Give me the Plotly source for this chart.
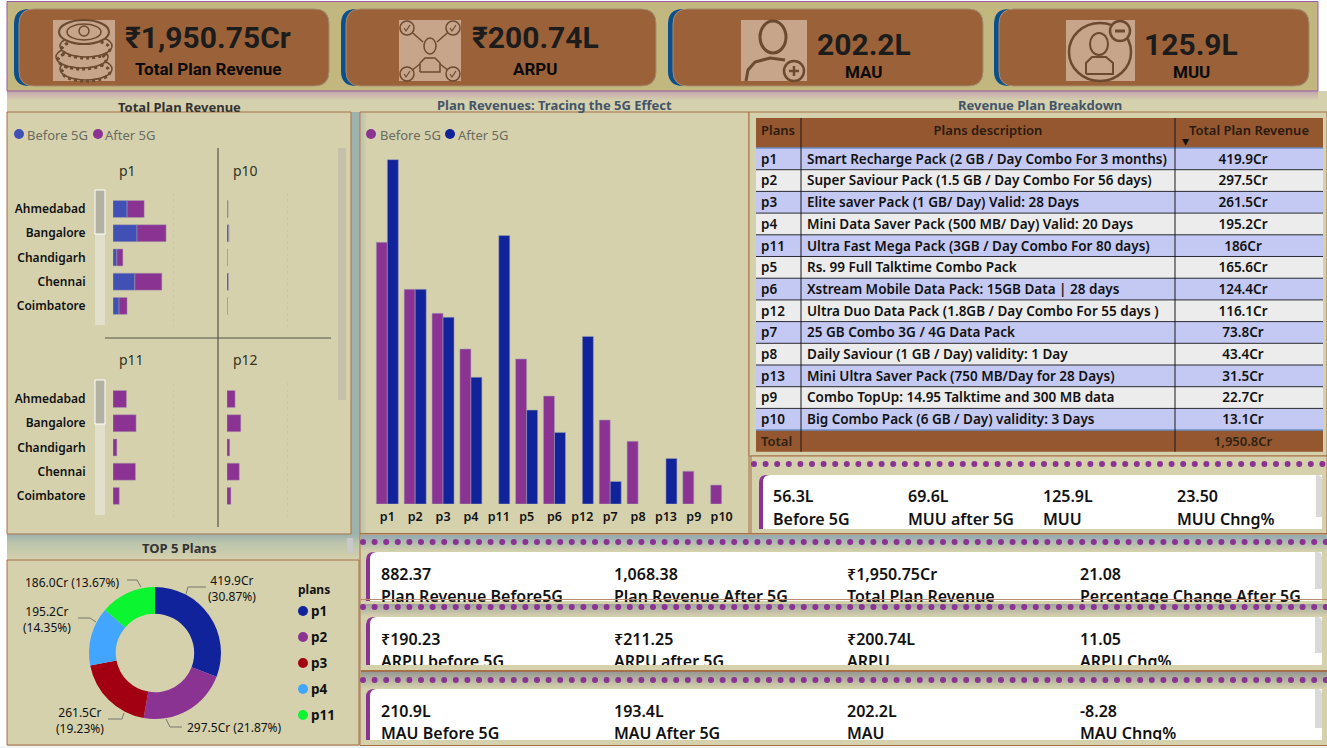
import numpy as np
import plotly.graph_objects as go

W, H = 1327, 748

# ---- data ----
cities = ['Ahmedabad', 'Bangalore', 'Chandigarh', 'Chennai', 'Coimbatore']
p1_before = [4.7, 8.0, 1.3, 7.3, 2.0]
p1_after = [5.7, 9.7, 2.0, 9.0, 2.7]
p10_before = [0.3, 0.6, 0.15, 0.5, 0.15]
p10_after = [0, 0, 0, 0, 0]
p11_before = [0, 0, 0, 0, 0]
p11_after = [4.5, 7.7, 1.3, 7.5, 2.1]
p12_before = [0, 0, 0, 0, 0]
p12_after = [2.7, 4.6, 0.9, 4.1, 1.3]

plans = ['p1', 'p2', 'p3', 'p4', 'p11', 'p5', 'p6', 'p12', 'p7', 'p8', 'p13', 'p9', 'p10']
rev_before = [181.3, 148.75, 132.1, 107.4, None, 100.5, 74.8, None, 58.2, 43.4, None, 22.7, 13.1]
rev_after = [238.6, 148.75, 129.4, 87.8, 186.0, 65.1, 49.6, 116.1, 15.6, None, 31.5, None, None]

plan_desc = ['Smart Recharge Pack (2 GB / Day Combo For 3 months)',
             'Super Saviour Pack (1.5 GB / Day Combo For 56 days)',
             'Elite saver Pack (1 GB/ Day) Valid: 28 Days',
             'Mini Data Saver Pack (500 MB/ Day) Valid: 20 Days',
             'Ultra Fast Mega Pack (3GB / Day Combo For 80 days)',
             'Rs. 99 Full Talktime Combo Pack',
             'Xstream Mobile Data Pack: 15GB Data | 28 days',
             'Ultra Duo Data Pack (1.8GB / Day Combo For 55 days )',
             '25 GB Combo 3G / 4G Data Pack',
             'Daily Saviour (1 GB / Day) validity: 1 Day',
             'Mini Ultra Saver Pack (750 MB/Day for 28 Days)',
             'Combo TopUp: 14.95 Talktime and 300 MB data',
             'Big Combo Pack (6 GB / Day) validity: 3 Days']
plan_total = ['419.9Cr', '297.5Cr', '261.5Cr', '195.2Cr', '186Cr', '165.6Cr', '124.4Cr',
              '116.1Cr', '73.8Cr', '43.4Cr', '31.5Cr', '22.7Cr', '13.1Cr']
table_headers = ['Plans', 'Plans description', 'Total Plan Revenue']
table_total = ['Total', '1,950.8Cr']

top_plans = ['p1', 'p2', 'p3', 'p4', 'p11']
top_values = [419.9, 297.5, 261.5, 195.2, 186.0]
top_pct = ['(30.87%)', '(21.87%)', '(19.23%)', '(14.35%)', '(13.67%)']

banner_values = ['₹1,950.75Cr', '₹200.74L', '202.2L', '125.9L']
banner_labels = ['Total Plan Revenue', 'ARPU', 'MAU', 'MUU']

muu_values = ['56.3L', '69.6L', '125.9L', '23.50']
muu_labels = ['Before 5G', 'MUU after 5G', 'MUU', 'MUU Chng%']
rev_values = ['882.37', '1,068.38', '₹1,950.75Cr', '21.08']
rev_labels = ['Plan Revenue Before5G', 'Plan Revenue After 5G', 'Total Plan Revenue', 'Percentage Change After 5G']
arpu_values = ['₹190.23', '₹211.25', '₹200.74L', '11.05']
arpu_labels = ['ARPU before 5G', 'ARPU after 5G', 'ARPU', 'ARPU Chg%']
mau_values = ['210.9L', '193.4L', '202.2L', '-8.28']
mau_labels = ['MAU Before 5G', 'MAU After 5G', 'MAU', 'MAU Chng%']

# ---- colours ----
PANEL = '#d5d1ad'
BORDER = '#a5714b'
BANNER = '#c2b77f'
CARD = '#9b6239'
ACCENT = '#0b4f8c'
ICON_BG = '#c6a58b'
ICON_LINE = '#6b4a30'
BLUE = '#10239b'
INDIGO = '#4050b5'
PURPLE = '#8a3393'
SLATE = '#44546a'
TEAL = '#9fb3ae'
TABLE_BROWN = '#95572f'
TEXT_FONT = 'Noto Sans'
BIG_FONT = 'Roboto'

shapes = []
annotations = []


def fx(x):
    return x / W


def fy(y):
    return 1 - y / H


def rect(x0, y0, x1, y1, fill, line=None, lw=1, layer='below'):
    shapes.append(dict(type='rect', xref='paper', yref='paper', x0=fx(x0), x1=fx(x1), y0=fy(y0), y1=fy(y1),
                       fillcolor=fill, line=dict(color=line or 'rgba(0,0,0,0)', width=lw if line else 0), layer=layer))


def rrect(x0, y0, x1, y1, r, fill, line=None, lw=1, corners=(1, 1, 1, 1)):
    # rounded rectangle as a path, corners are tl, tr, br, bl
    tl, tr, br, bl = [r * c for c in corners]
    pts = [('M', x0 + tl, y0), ('L', x1 - tr, y0), ('Q', x1, y0, x1, y0 + tr), ('L', x1, y1 - br),
           ('Q', x1, y1, x1 - br, y1), ('L', x0 + bl, y1), ('Q', x0, y1, x0, y1 - bl), ('L', x0, y0 + tl),
           ('Q', x0, y0, x0 + tl, y0)]
    path = ''
    for p in pts:
        vals = p[1:]
        coords = []
        for i in range(0, len(vals), 2):
            coords.append(f'{fx(vals[i]):.5f},{fy(vals[i + 1]):.5f}')
        path += p[0] + ' '.join(coords) + ' '
    shapes.append(dict(type='path', xref='paper', yref='paper', path=path + 'Z', fillcolor=fill,
                       line=dict(color=line or 'rgba(0,0,0,0)', width=lw if line else 0), layer='below'))


def ellipse(cx, cy, rx, ry, fill='rgba(0,0,0,0)', line=None, lw=1.5, dash='solid'):
    shapes.append(dict(type='circle', xref='paper', yref='paper', x0=fx(cx - rx), x1=fx(cx + rx), y0=fy(cy - ry),
                       y1=fy(cy + ry), fillcolor=fill,
                       line=dict(color=line or 'rgba(0,0,0,0)', width=lw if line else 0, dash=dash), layer='below'))


def poly(points, color, lw=1, layer='below', fill='rgba(0,0,0,0)', close=False):
    path = 'M' + ' L'.join(f'{fx(x):.5f},{fy(y):.5f}' for x, y in points)
    if close:
        path += ' Z'
    shapes.append(dict(type='path', xref='paper', yref='paper', path=path, fillcolor=fill,
                       line=dict(color=color, width=lw), layer=layer))


def vgrad(x0, x1, y0, y1, c0, c1):
    # vertical fade drawn as one pixel strips
    n = int(y1 - y0)
    for i in range(n):
        t = i / max(n - 1, 1)
        c = [int(c0[k] + (c1[k] - c0[k]) * t) for k in range(3)]
        rect(x0, y0 + i, x1, y0 + i + 1.2, f'rgb({c[0]},{c[1]},{c[2]})')


def hgrad(x0, x1, y0, y1, c0, c1):
    n = int(x1 - x0)
    for i in range(n):
        t = i / max(n - 1, 1)
        c = [int(c0[k] + (c1[k] - c0[k]) * t) for k in range(3)]
        rect(x0 + i, y0, x0 + i + 1.2, y1, f'rgb({c[0]},{c[1]},{c[2]})')


def label(x, y, text, size=12, color='#111', anchor='center', font=TEXT_FONT, bold=False):
    annotations.append(dict(xref='paper', yref='paper', x=fx(x), y=fy(y), text=f'<b>{text}</b>' if bold else text,
                            showarrow=False, xanchor=anchor, yanchor='middle',
                            font=dict(family=font, size=size, color=color)))


PANEL_RGB = (213, 209, 173)

# page background
rect(7, 91, W, 748, PANEL)
vgrad(7, 1318, 91, 101, (196, 168, 174), PANEL_RGB)

# top banner
rect(7, 1.5, 1318, 91, BANNER, line='#9b59a8', lw=1)
for i, x0 in enumerate([14, 341, 668, 994]):
    rrect(x0, 9, x0 + 315, 86, 15, ACCENT)
    rrect(x0 + 5, 9, x0 + 315, 86, 15, CARD, line='#a88c6e', lw=1)
label(208, 38, banner_values[0], 30, '#1c1c1c', font=BIG_FONT, bold=True)
label(208, 69, banner_labels[0], 17, '#0a0a0a', font=BIG_FONT, bold=True)
label(535, 38, banner_values[1], 30, '#1c1c1c', font=BIG_FONT, bold=True)
label(535, 69, banner_labels[1], 17, '#0a0a0a', font=BIG_FONT, bold=True)
label(864, 44, banner_values[2], 30, '#1c1c1c', font=BIG_FONT, bold=True)
label(864, 72, banner_labels[2], 17, '#0a0a0a', font=BIG_FONT, bold=True)
label(1191, 44, banner_values[3], 30, '#1c1c1c', font=BIG_FONT, bold=True)
label(1191, 72, banner_labels[3], 17, '#0a0a0a', font=BIG_FONT, bold=True)

# coins icon
rect(53, 20, 115, 81, ICON_BG)
for cx, cy in [(86, 69), (82, 57), (86, 46)]:
    ellipse(cx, cy, 26, 11, fill=ICON_BG, line=ICON_LINE, lw=1.5)
    ellipse(cx, cy + 3, 24, 9, line=ICON_LINE, lw=3, dash='dot')
ellipse(84, 32, 25, 12, fill=ICON_BG, line=ICON_LINE, lw=2)
ellipse(84, 32, 17, 8, line=ICON_LINE, lw=1.5)
ellipse(84, 31, 5, 5, line=ICON_LINE, lw=1.5)

# network icon
rect(399, 20, 461, 81, ICON_BG)
for cx, cy, tx, ty in [(407, 28, 423, 42), (453, 28, 437, 42), (407, 74, 420, 64), (453, 74, 440, 64)]:
    poly([(cx, cy), (tx, ty)], ICON_LINE, 1.5)
    ellipse(cx, cy, 7, 7, fill=ICON_BG, line=ICON_LINE, lw=1.5)
    poly([(cx - 3, cy), (cx - 1, cy + 3), (cx + 3, cy - 3)], ICON_LINE, 1.2)
ellipse(430, 46, 6, 8, line=ICON_LINE, lw=1.5)
poly([(420, 72), (420, 63), (425, 58), (435, 58), (440, 63), (440, 72), (420, 72)], ICON_LINE, 1.5)

# add-user icon
rect(741, 20, 807, 81, ICON_BG)
ellipse(773, 37, 13, 16, line=ICON_LINE, lw=3)
poly([(746, 81), (748, 70), (755, 62), (770, 58), (785, 60)], ICON_LINE, 3)
ellipse(794, 71, 10, 10, fill=ICON_BG, line=ICON_LINE, lw=2.5)
poly([(789, 71), (799, 71)], ICON_LINE, 2.5)
poly([(794, 66), (794, 76)], ICON_LINE, 2.5)

# remove-user icon
rect(1066, 20, 1135, 81, ICON_BG)
ellipse(1100, 52, 31, 29, line=ICON_LINE, lw=2.5)
ellipse(1099, 44, 9, 11, line=ICON_LINE, lw=2)
poly([(1086, 74), (1086, 63), (1092, 57), (1106, 57), (1113, 63), (1113, 74), (1086, 74)], ICON_LINE, 2)
ellipse(1120, 31, 10, 10, fill=ICON_BG, line=ICON_LINE, lw=2.5)
poly([(1115, 31), (1125, 31)], ICON_LINE, 3)

# section titles
label(179, 107, 'Total Plan Revenue', 13, '#333', bold=True)
label(554, 105, 'Plan Revenues: Tracing the 5G Effect', 13, SLATE, bold=True)
label(1040, 105, 'Revenue Plan Breakdown', 13, SLATE, bold=True)

# left panel
rect(351, 112, 360, 540, TEAL)
vgrad(7, 360, 534, 544, (159, 179, 174), (190, 198, 172))
vgrad(7, 360, 544, 560, (190, 198, 172), PANEL_RGB)
rect(347, 538, 353, 553, '#c9c9c9')
rect(7, 112, 351, 534, PANEL, line=BORDER)
rect(95, 190, 105, 325, '#e2e0cc')
rect(95, 190, 105, 234, '#b3b1a3', line='#ffffff', lw=1)
rect(95, 380, 105, 515, '#e2e0cc')
rect(95, 380, 105, 424, '#b3b1a3', line='#ffffff', lw=1)
rect(338, 148, 346, 400, '#c5c0aa')
poly([(218, 148), (218, 527)], '#55554a', 1.2)
poly([(105, 338), (331, 338)], '#55554a', 1.2)
for x, y, t in [(117, 170, 'p1'), (231, 170, 'p10'), (117, 360, 'p11'), (231, 360, 'p12')]:
    label(x, y, t, 14, '#333322', anchor='left')
ellipse(19, 134, 5, 5, fill=INDIGO)
ellipse(98, 134, 5, 5, fill=PURPLE)
label(25, 135, 'Before 5G', 13, '#6b6b5f', anchor='left')
label(103, 135, 'After 5G', 13, '#6b6b5f', anchor='left')

# middle panel
rect(360, 112, 749, 534, PANEL, line=BORDER)
hgrad(361, 368, 113, 533, (190, 198, 172), PANEL_RGB)
ellipse(371, 134, 5, 5, fill=PURPLE)
ellipse(450, 134, 5, 5, fill=BLUE)
label(378, 135, 'Before 5G', 13, '#6b6b5f', anchor='left')
label(456, 135, 'After 5G', 13, '#6b6b5f', anchor='left')

# table panel and table chrome
rect(749, 112, W, 456, PANEL, line=BORDER)
T_X0, T_COL1, T_COL2, T_X1 = 756, 801, 1175, 1323
T_HEAD_TOP, T_ROW_TOP, ROW_H = 118, 148, 21.7
n_rows = len(plans)
rect(T_X0, T_HEAD_TOP, T_X1, T_ROW_TOP, TABLE_BROWN)
for i in range(n_rows):
    y0 = T_ROW_TOP + i * ROW_H
    rect(T_X0, y0, T_X1, y0 + ROW_H, '#c4c9f3' if i % 2 == 0 else '#ececec')
    if i > 0:
        poly([(T_X0, y0), (T_X1, y0)], '#2a2a33', 1)
T_FOOT = T_ROW_TOP + n_rows * ROW_H
rect(T_X0, T_FOOT, T_X1, T_FOOT + ROW_H, TABLE_BROWN)
poly([(T_X0, T_ROW_TOP), (T_X1, T_ROW_TOP)], '#6a8fc8', 1.5)
poly([(T_X0, T_FOOT), (T_X1, T_FOOT)], '#6a8fc8', 1.5)
poly([(T_COL1, T_HEAD_TOP), (T_COL1, T_FOOT + ROW_H)], '#1a1a1a', 1)
poly([(T_COL2, T_HEAD_TOP), (T_COL2, T_FOOT + ROW_H)], '#1a1a1a', 1)
label(1185, 141, '▾', 14, '#111')

# MUU card panel
rect(751, 456, W, 534, PANEL, line=BORDER)
rrect(759, 475, 790, 529, 8, PURPLE, corners=(1, 0, 0, 0))
rrect(763, 475, 1322, 529, 7, '#ffffff', corners=(1, 0, 0, 0))
rrect(1316, 475, 1322, 517, 5, '#d9d9d9', corners=(0, 1, 0, 0))

# bottom card rows
rect(360, 534, W, 745, PANEL)
rect(360, 533, W, 534.5, BORDER)
vgrad(361, W, 535, 552, (150, 170, 178), PANEL_RGB)
vgrad(361, W, 604, 617, (165, 165, 160), PANEL_RGB)
rect(361, 670, W, 672, BORDER)
vgrad(361, W, 672, 689, (155, 155, 150), PANEL_RGB)
poly([(360, 534), (360, 745)], BORDER, 1)
rect(360, 745, W, 746, BORDER)
rect(0, 746, W, H, '#f2f2f2')
for y0, y1 in [(552, 601), (617, 665), (689, 740)]:
    rrect(366, y0, 400, y1, 8, PURPLE, corners=(1, 0, 0, 0))
    rrect(370, y0, 1322, y1, 7, '#ffffff', corners=(1, 0, 0, 0))
    rrect(1315, y0, 1322, y1 - 12, 5, '#d9d9d9', corners=(0, 1, 0, 0))

# donut panel
rect(7, 560, 359, 745, PANEL, line=BORDER)
label(179, 548, 'TOP 5 Plans', 13, '#333', bold=True)
pie_colors = [BLUE, PURPLE, '#a20012', '#42a5ff', '#0bf531']
top_text = [f'{v:.1f}Cr' for v in top_values]
label(232, 588, f'{top_text[0]}<br>{top_pct[0]}', 12, '#111')
label(234, 727, f'{top_text[1]} {top_pct[1]}', 12, '#111')
label(80, 720, f'{top_text[2]}<br>{top_pct[2]}', 12, '#111')
label(47, 619, f'{top_text[3]}<br>{top_pct[3]}', 12, '#111')
label(72, 582, f'{top_text[4]} {top_pct[4]}', 12, '#111')
leader = '#77776a'
poly([(206, 587), (188, 587), (186, 594)], leader)
poly([(182, 727), (170, 727), (166, 719)], leader)
poly([(108, 719), (122, 719), (124, 713)], leader)
poly([(78, 618), (90, 618), (96, 622)], leader)
poly([(127, 580), (137, 580), (141, 587)], leader)
label(296, 589, 'plans', 12, '#111', anchor='left', bold=True)
for i, p in enumerate(top_plans):
    y = 611 + i * 26
    ellipse(303, y, 5, 5, fill=pie_colors[i])
    label(309, y, p, 13.5, '#111', anchor='left', bold=True)

# ---- traces ----
fig = go.Figure()
layout_axes = {}


def add_axes(n, x0, x1, y0, y1, xopts, yopts):
    # axes placed by pixel box on the page
    s = '' if n == 1 else n
    layout_axes[f'xaxis{s}'] = dict(domain=[fx(x0), fx(x1)], anchor=f'y{s}', **xopts)
    layout_axes[f'yaxis{s}'] = dict(domain=[fy(y1), fy(y0)], anchor=f'x{s}', **yopts)


# dotted rows across the page
add_axes(1, 0, W, 0, H, dict(range=[0, W], visible=False), dict(range=[H, 0], visible=False))
for x0, y in [(752, 464), (361, 542), (361, 607), (361, 680)]:
    dots = np.arange(x0 + 2, W, 11.6)
    fig.add_trace(go.Scatter(x=dots, y=[y] * len(dots), mode='markers', xaxis='x', yaxis='y',
                             marker=dict(color=PURPLE, size=6), hoverinfo='skip'))

# small multiples
multiples = [('p1', p1_before, p1_after, 113, 193, True),
             ('p10', p10_before, p10_after, 227, 193, False),
             ('p11', p11_before, p11_after, 113, 383, True),
             ('p12', p12_before, p12_after, 227, 383, False)]
for k, (name, before, after, left, top, show_labels) in enumerate(multiples):
    n = k + 2
    add_axes(n, left, left + 105, top, top + 134,
             dict(range=[0, 35], dtick=20, showticklabels=False, showgrid=True, griddash='dot',
                  gridcolor='#cbc8a6', gridwidth=1, zeroline=False, ticks=''),
             dict(type='category', categoryorder='array', categoryarray=cities, range=[4.87, -0.66],
                  showgrid=False, zeroline=False, showticklabels=show_labels, ticks='outside' if show_labels else '',
                  ticklen=24, tickcolor='rgba(0,0,0,0)',
                  tickfont=dict(family=TEXT_FONT, size=12, color='#111', weight=600)))
    bar_line = dict(color='rgba(170,160,170,0.7)', width=0.7)
    fig.add_trace(go.Bar(y=cities, x=before, orientation='h', width=0.7, offsetgroup='a', marker_color=INDIGO,
                         marker_line=bar_line, name='Before 5G', xaxis=f'x{n}', yaxis=f'y{n}'))
    fig.add_trace(go.Bar(y=cities, x=after, base=before, orientation='h', width=0.7, offsetgroup='a',
                         marker_color=PURPLE, marker_line=bar_line, name='After 5G', xaxis=f'x{n}', yaxis=f'y{n}'))

# clustered columns
add_axes(6, 373.4, 735.6, 150, 504,
         dict(type='category', categoryorder='array', categoryarray=plans, showgrid=False, zeroline=False,
              ticks='outside', ticklen=1, tickcolor='rgba(0,0,0,0)', showline=False,
              tickfont=dict(family=TEXT_FONT, size=12.5, color='#111', weight=600)),
         dict(range=[0, 245.3], visible=False))
col_line = dict(color='rgba(160,160,180,0.8)', width=0.7)
fig.add_trace(go.Bar(x=plans, y=rev_before, marker_color=PURPLE, marker_line=col_line, name='Before 5G',
                     xaxis='x6', yaxis='y6'))
fig.add_trace(go.Bar(x=plans, y=rev_after, marker_color=BLUE, marker_line=col_line, name='After 5G',
                     xaxis='x6', yaxis='y6'))

# donut
fig.add_trace(go.Pie(labels=top_plans, values=top_values, hole=0.594, sort=False, direction='clockwise', rotation=0,
                     textinfo='none', marker=dict(colors=pie_colors, line=dict(width=0)),
                     domain=dict(x=[fx(89), fx(221)], y=[fy(719), fy(587)])))

# table text, go.Table will not go below about 33px a row so the cells are placed by hand
row_y = [T_ROW_TOP + (i + 0.5) * ROW_H + 1.5 for i in range(n_rows)]
foot_y = T_FOOT + ROW_H / 2 + 1.5
head_y = 132
table_font = dict(family=TEXT_FONT, size=13.5, color='#111', weight=600)
head_font = dict(family=TEXT_FONT, size=13, color='#2a1a10', weight=600)
foot_font = dict(family=TEXT_FONT, size=13, color='#2e2214', weight=600)
add_axes(7, T_X0, T_X1, T_HEAD_TOP, T_FOOT + ROW_H, dict(range=[T_X0, T_X1], visible=False),
         dict(range=[T_FOOT + ROW_H, T_HEAD_TOP], visible=False))
fig.add_trace(go.Scatter(x=[761] * n_rows, y=row_y, text=plans, mode='text', textposition='middle right',
                         textfont=table_font, xaxis='x7', yaxis='y7', hoverinfo='skip'))
fig.add_trace(go.Scatter(x=[807] * n_rows, y=row_y, text=plan_desc, mode='text', textposition='middle right',
                         textfont=table_font, xaxis='x7', yaxis='y7', hoverinfo='skip'))
fig.add_trace(go.Scatter(x=[1243] * n_rows, y=row_y, text=plan_total, mode='text', textposition='middle center',
                         textfont=table_font, xaxis='x7', yaxis='y7', hoverinfo='skip'))
fig.add_trace(go.Scatter(x=[761], y=[head_y], text=table_headers[:1], mode='text', textposition='middle right',
                         textfont=head_font, xaxis='x7', yaxis='y7', hoverinfo='skip'))
fig.add_trace(go.Scatter(x=[988, 1249], y=[head_y, head_y], text=table_headers[1:], mode='text',
                         textposition='middle center', textfont=head_font, xaxis='x7', yaxis='y7', hoverinfo='skip'))
fig.add_trace(go.Scatter(x=[761], y=[foot_y], text=table_total[:1], mode='text', textposition='middle right',
                         textfont=foot_font, xaxis='x7', yaxis='y7', hoverinfo='skip'))
fig.add_trace(go.Scatter(x=[1243], y=[foot_y], text=table_total[1:], mode='text', textposition='middle center',
                         textfont=foot_font, xaxis='x7', yaxis='y7', hoverinfo='skip'))

# text cards, clipped by their own axes the way the visuals cut them off
card_rows = [(759, 1322, 475, 529, [773, 908, 1043, 1177], 498, 521, muu_values, muu_labels),
             (366, 1322, 552, 603, [381, 614, 847, 1080], 576, 598, rev_values, rev_labels),
             (366, 1322, 617, 665, [381, 614, 847, 1080], 641, 663, arpu_values, arpu_labels),
             (366, 1322, 689, 740, [381, 614, 847, 1080], 713, 735, mau_values, mau_labels)]
for k, (x0, x1, y0, y1, xs, vy, ly, vals, labs) in enumerate(card_rows):
    n = k + 8
    add_axes(n, x0, x1, y0, y1, dict(range=[x0, x1], visible=False), dict(range=[y1, y0], visible=False))
    fig.add_trace(go.Scatter(x=xs + xs, y=[vy] * 4 + [ly] * 4, mode='text', text=vals + labs,
                             textposition='middle right', cliponaxis=True, xaxis=f'x{n}', yaxis=f'y{n}',
                             textfont=dict(family=TEXT_FONT, size=16, color='#111', weight=600), hoverinfo='skip'))

# brown rule that runs through the first card row
shapes.append(dict(type='line', xref='paper', yref='paper', x0=fx(361), x1=fx(W), y0=fy(599.5), y1=fy(599.5),
                   line=dict(color='#b98a72', width=1), layer='above'))

fig.update_layout(width=W, height=H, margin=dict(l=0, r=0, t=0, b=0), autosize=False, showlegend=False,
                  paper_bgcolor='#ffffff', plot_bgcolor='rgba(0,0,0,0)', barmode='group', bargap=0.21, bargroupgap=0,
                  shapes=shapes, annotations=annotations, **layout_axes)

fig.write_html("out.html", config=dict(displayModeBar=False),
               post_script="document.body.style.margin='0';document.body.style.overflow='hidden';")
